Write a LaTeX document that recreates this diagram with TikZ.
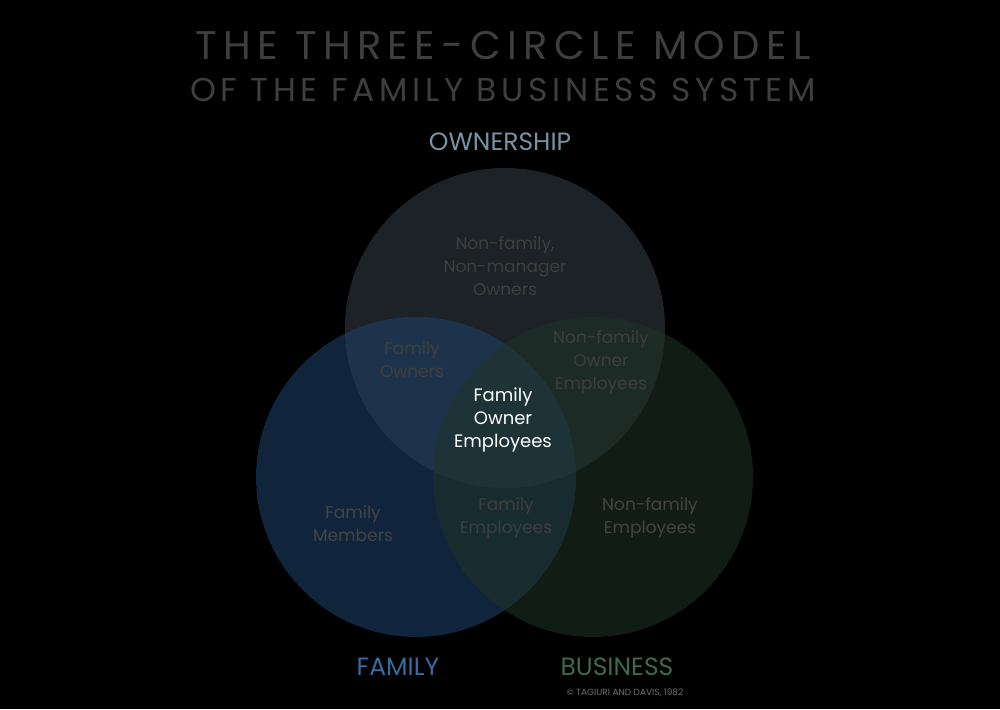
\documentclass[tikz,border=0pt]{standalone}
\usepackage{fontspec}
\setmainfont{Poppins}
\newfontfamily\titlefont[LetterSpace=16]{Poppins}
\newfontfamily\subfont[LetterSpace=14]{Poppins}
\definecolor{co}{RGB}{51,62,69}
\definecolor{cf}{RGB}{30,66,108}
\definecolor{cb}{RGB}{31,52,39}
\definecolor{dim}{RGB}{62,62,62}
\definecolor{dim2}{RGB}{68,68,68}
\definecolor{owncol}{RGB}{118,148,163}
\definecolor{famcol}{RGB}{56,108,158}
\definecolor{buscol}{RGB}{60,106,74}
\definecolor{cpcol}{RGB}{110,110,110}
\begin{document}
\begin{tikzpicture}[x=1pt,y=-1pt,
 circ/.style={fill opacity=0.55,draw=none},
 lab/.style={align=center,font=\fontsize{17}{23}\selectfont,text=#1},
 lab/.default=dim]
\fill[black] (0,0) rectangle (1000,709);
\useasboundingbox (0,0) rectangle (1000,709);
\fill[circ,co] (505,328) circle (160);
\fill[circ,cf] (416,477) circle (160);
\fill[circ,cb] (593,477) circle (160);
\node[text=dim,font=\titlefont\fontsize{40}{40}\selectfont] (t1) at (503,46) {THE THREE-CIRCLE MODEL};
\node[text=dim,font=\subfont\fontsize{33}{33}\selectfont] (t2) at (503,90) {OF THE FAMILY BUSINESS SYSTEM};
\node[text=owncol,font=\fontsize{25}{25}\selectfont] (own) at (500,142) {OWNERSHIP};
\node[text=famcol,font=\fontsize{25}{25}\selectfont] (fam) at (398,667) {FAMILY};
\node[text=buscol,font=\fontsize{25}{25}\selectfont] (bus) at (617,667) {BUSINESS};
\node[text=cpcol,font=\fontsize{9}{9}\selectfont] (cp) at (625,693) {© TAGIURI AND DAVIS, 1982};
\node[lab=dim] (a) at (505,266) {Non-family,\\Non-manager\\Owners};
\node[lab=dim] (b) at (412,360) {Family\\Owners};
\node[lab=dim] (c) at (601,362) {Non-family\\Owner\\Employees};
\node[lab=white,font=\fontsize{18}{23}\selectfont] (d) at (503,420) {Family\\Owner\\Employees};
\node[lab=dim2] (e) at (353,524) {Family\\Members};
\node[lab=dim] (f) at (506,518) {Family\\Employees};
\node[lab=dim2] (g) at (650,518) {Non-family\\Employees};
\end{tikzpicture}
\end{document}
